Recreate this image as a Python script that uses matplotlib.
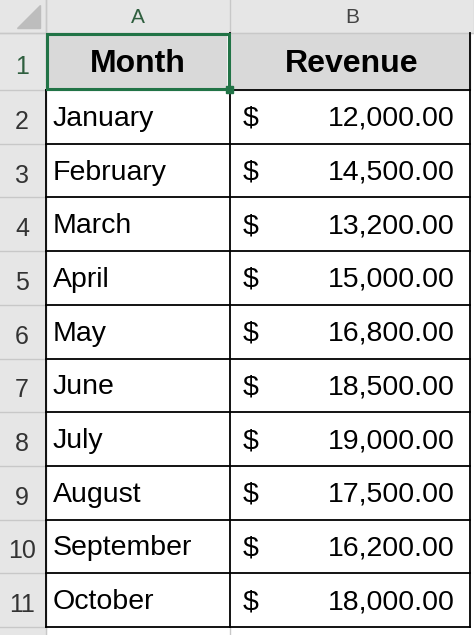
import matplotlib.pyplot as plt
from matplotlib.patches import Rectangle, Polygon

months = ["January", "February", "March", "April", "May", "June",
          "July", "August", "September", "October"]
revenue = [12000, 14500, 13200, 15000, 16800, 18500, 19000, 17500, 16200, 18000]
col_labels = ["A", "B"]
headers = ["Month", "Revenue"]

W, H = 474, 635
fig = plt.figure(figsize=(W / 100, H / 100), dpi=100)
ax = fig.add_axes([0, 0, 1, 1])
ax.set_xlim(0, W)
ax.set_ylim(H, 0)
ax.axis("off")
plt.rcParams['font.family'] = ['Liberation Sans', 'DejaVu Sans']

grey = "#e6e6e6"
gridc = "#c8c8c8"
hdr_text = "#2f5f3f"
x_cols = [0, 46, 230, 474]
top_h = 33
row1_bot = 90
row_h = (627 - row1_bot) / len(months)
row_edges = [0, top_h, row1_bot] + [row1_bot + row_h * (i + 1) for i in range(len(months))]

# header strips
ax.add_patch(Rectangle((0, 0), W, top_h, color=grey, zorder=0))
ax.add_patch(Rectangle((0, 0), x_cols[1], H, color=grey, zorder=0))
ax.add_patch(Polygon([[40, 5], [40, 28], [17, 28]], color="#bdbdbd", zorder=1))
for x in x_cols[1:]:
    ax.plot([x, x], [0, top_h], color=gridc, lw=1)
for y in row_edges[1:]:
    ax.plot([0, x_cols[1]], [y, y], color=gridc, lw=1)
ax.plot([0, W], [top_h, top_h], color=gridc, lw=1)
ax.plot([x_cols[1], x_cols[1]], [0, H], color=gridc, lw=1)
ax.plot([x_cols[2], x_cols[2]], [627, H], color=gridc, lw=1)

for i, c in enumerate(col_labels):
    ax.text((x_cols[i + 1] + x_cols[i + 2]) / 2, top_h / 2 + 1, c,
            ha="center", va="center", fontsize=15, color=hdr_text if i == 0 else "#444444")

# row 1 header cells
for i, h in enumerate(headers):
    ax.add_patch(Rectangle((x_cols[i + 1], top_h), x_cols[i + 2] - x_cols[i + 1] - 4,
                           row1_bot - top_h, color="#d9d9d9", zorder=0))
    ax.text((x_cols[i + 1] + x_cols[i + 2]) / 2, (top_h + row1_bot) / 2 + 2, h,
            ha="center", va="center", fontsize=23, fontweight="bold", color="black")

# data rows
for r, (m, v) in enumerate(zip(months, revenue)):
    y0 = row_edges[r + 2]
    y1 = row_edges[r + 3]
    yc = (y0 + y1) / 2 + 2
    ax.text(53, yc, m, ha="left", va="center", fontsize=20.5, color="black")
    ax.text(243, yc, "$", ha="left", va="center", fontsize=20.5, color="black")
    ax.text(455, yc, f"{v:,.2f}", ha="right", va="center", fontsize=20.5, color="black")

# table borders
for y in row_edges[2:]:
    ax.plot([x_cols[1], 470], [y, y], color="black", lw=1.3)
for x in [x_cols[2], 470]:
    ax.plot([x, x], [row1_bot, 627], color="black", lw=1.3)
ax.plot([x_cols[1], x_cols[1]], [row1_bot, 627], color="black", lw=1.3)
ax.plot([x_cols[2], x_cols[2]], [top_h, row1_bot], color="black", lw=1.3)
ax.plot([470, 470], [top_h, row1_bot], color="black", lw=1.3)

# row numbers
for r in range(len(months) + 1):
    y0, y1 = row_edges[r + 1], row_edges[r + 2]
    ax.text(22, (y0 + y1) / 2 + 5, str(r + 1), ha="center", va="center",
            fontsize=18, color=hdr_text if r == 0 else "#333333")

# selected cell A1
ax.add_patch(Rectangle((x_cols[1] + 1, top_h + 1), x_cols[2] - x_cols[1] - 2,
                       row1_bot - top_h - 2, fill=False, ec="#217346", lw=2.2, zorder=5))
ax.add_patch(Rectangle((x_cols[2] - 4, row1_bot - 4), 7, 7, color="#217346", zorder=6))

fig.savefig("out.png", dpi=100)
